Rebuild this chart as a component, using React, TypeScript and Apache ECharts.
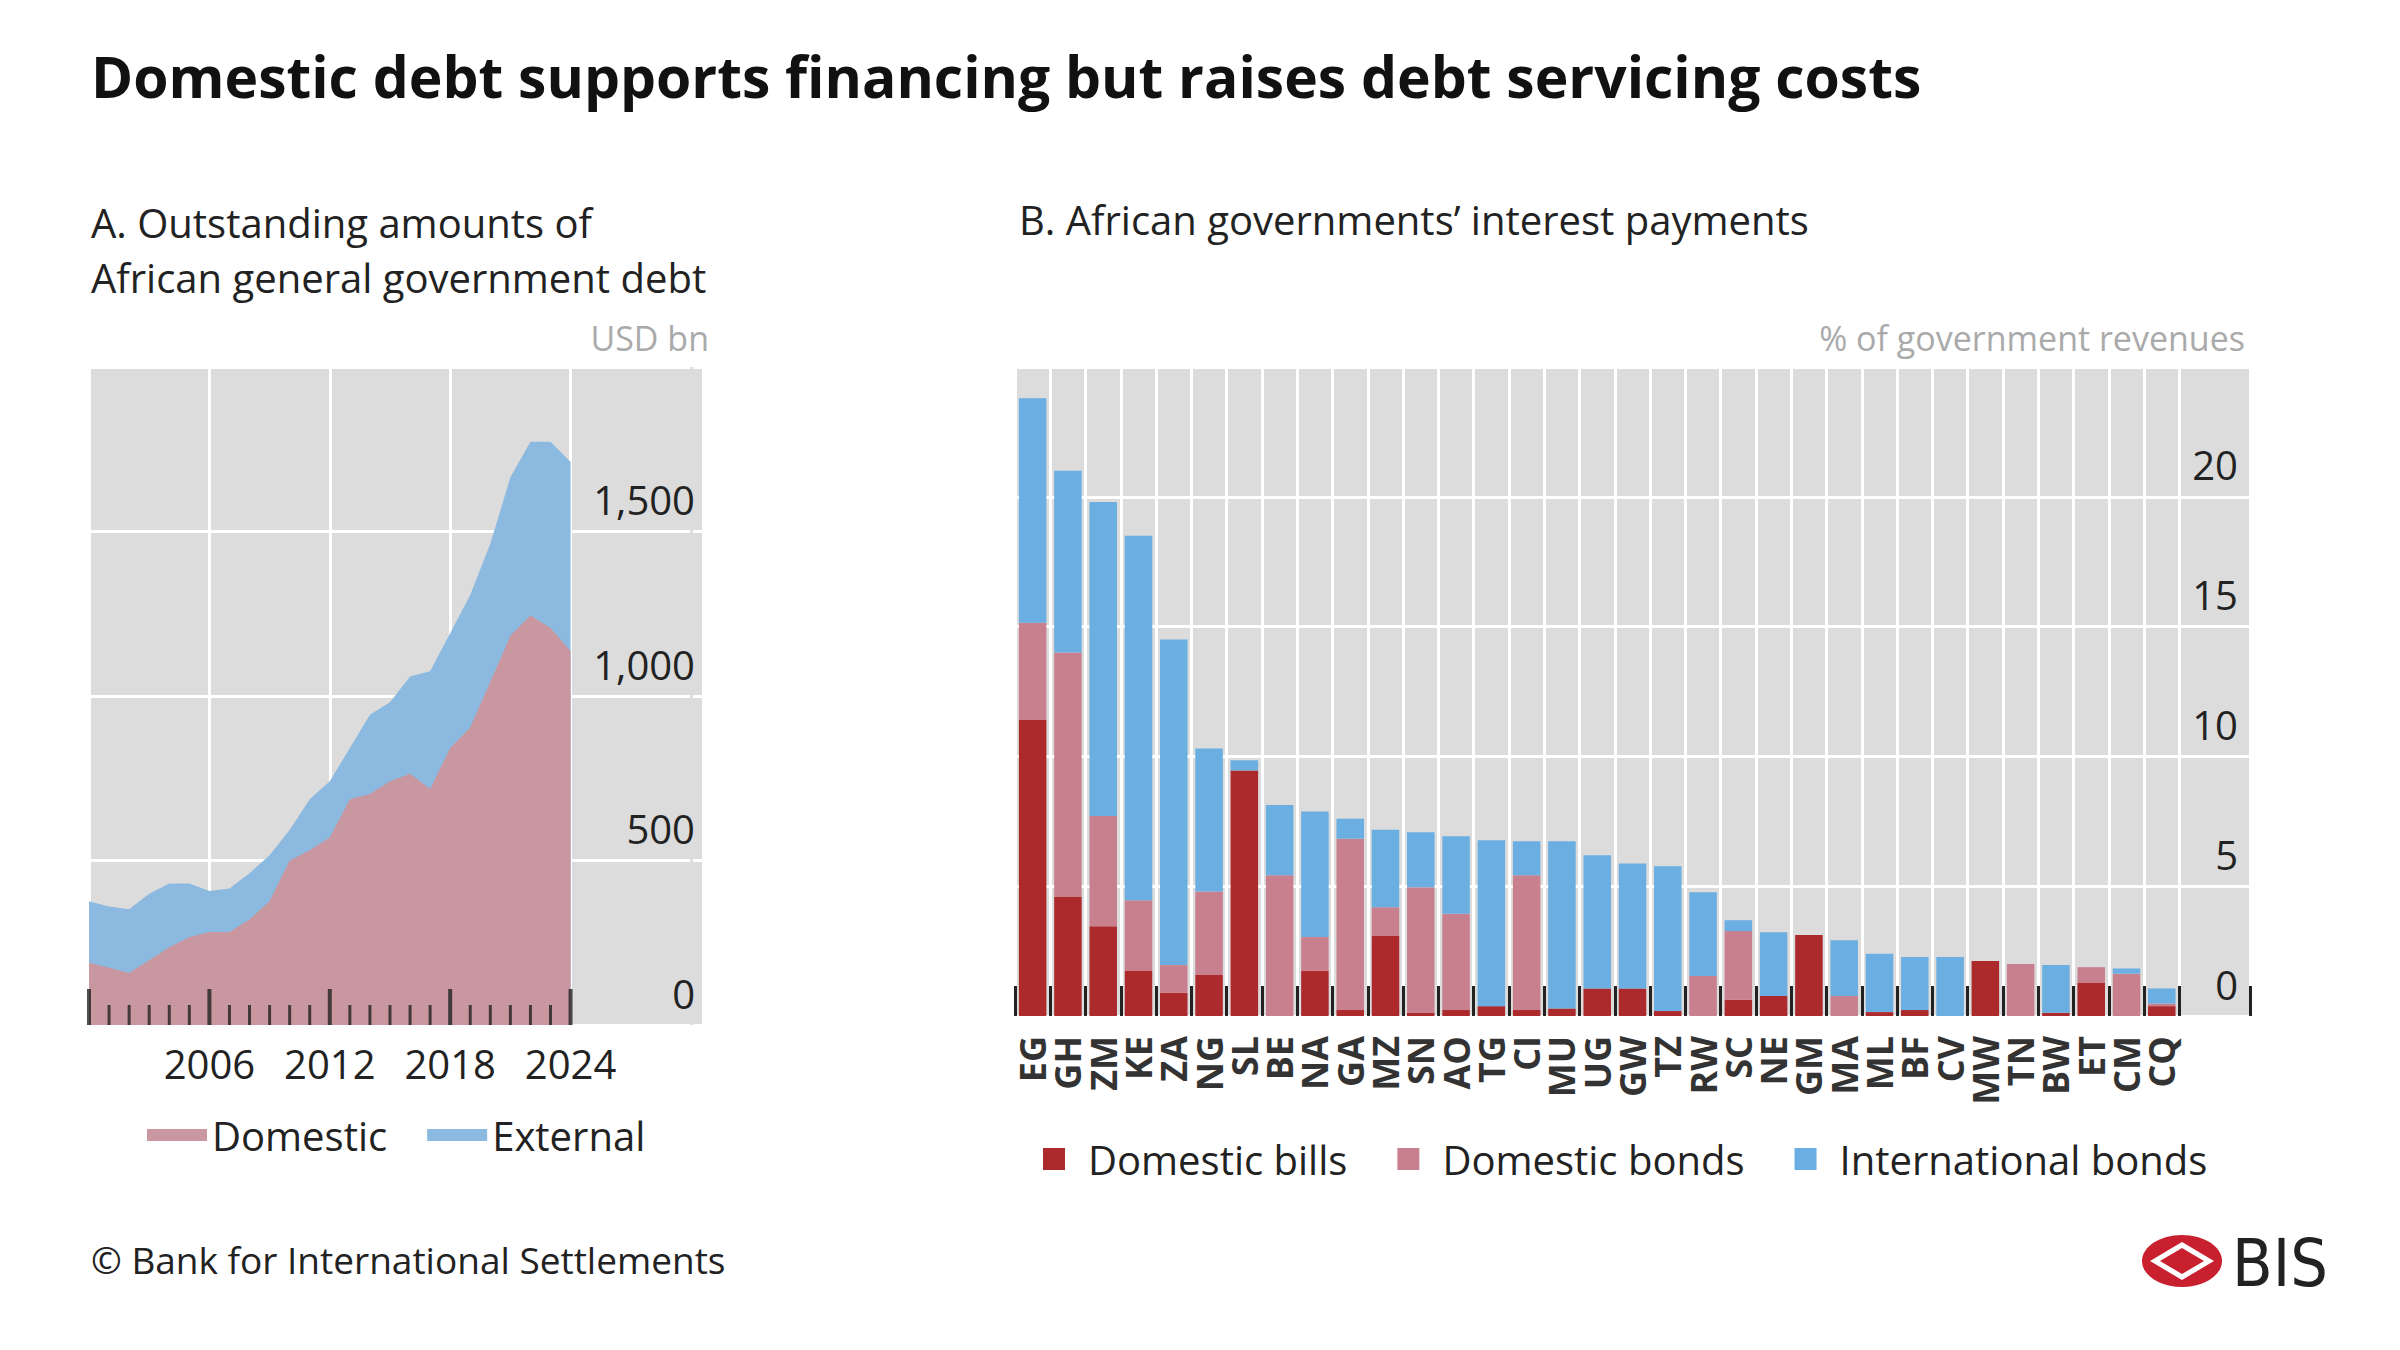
import React, { useEffect, useRef } from "react";
import * as echarts from "echarts";

const years = [2000, 2001, 2002, 2003, 2004, 2005, 2006, 2007, 2008, 2009, 2010, 2011, 2012, 2013, 2014, 2015, 2016, 2017, 2018, 2019, 2020, 2021, 2022, 2023, 2024];
const totalDebt = [376, 360, 352, 399, 430, 430, 407, 415, 461, 516, 593, 686, 741, 842, 943, 981, 1059, 1075, 1191, 1307, 1463, 1665, 1773, 1773, 1711];
const domesticDebt = [189, 174, 158, 197, 236, 267, 283, 283, 321, 376, 500, 531, 570, 686, 702, 741, 764, 717, 842, 904, 1043, 1183, 1245, 1207, 1137];

const countries = ["EG", "GH", "ZM", "KE", "ZA", "NG", "SL", "BE", "NA", "GA", "MZ", "SN", "AO", "TG", "CI", "MU", "UG", "GW", "TZ", "RW", "SC", "NE", "GM", "MA", "ML", "BF", "CV", "MW", "TN", "BW", "ET", "CM", "CQ"];
// cumulative tops: bills, bills+bonds, total
const billsTop = [11.4, 4.6, 3.46, 1.73, 0.9, 1.58, 9.46, 0, 1.73, 0.23, 3.08, 0.13, 0.23, 0.38, 0.23, 0.29, 1.06, 1.06, 0.19, 0, 0.63, 0.77, 3.12, 0, 0.15, 0.23, 0, 2.12, 0, 0.13, 1.29, 0, 0.38];
const bondsTop = [15.15, 14.0, 7.7, 4.46, 1.96, 4.8, 9.46, 5.42, 3.04, 6.83, 4.19, 4.96, 3.94, 0.38, 5.42, 0.29, 1.06, 1.06, 0.19, 1.54, 3.27, 0.77, 3.12, 0.77, 0.15, 0.23, 0, 2.12, 2.0, 0.13, 1.88, 1.63, 0.48];
const totalTop = [23.8, 21.0, 19.8, 18.5, 14.5, 10.3, 9.85, 8.13, 7.88, 7.6, 7.17, 7.08, 6.92, 6.77, 6.73, 6.73, 6.19, 5.87, 5.77, 4.77, 3.69, 3.23, 3.12, 2.92, 2.4, 2.27, 2.27, 2.12, 2.0, 1.96, 1.88, 1.83, 1.06];

const domesticBills = billsTop;
const domesticBonds = bondsTop.map((v, i) => +(v - billsTop[i]).toFixed(2));
const internationalBonds = totalTop.map((v, i) => +(v - bondsTop[i]).toFixed(2));

// two empty slots at the right leave room for the axis labels
const categoriesB = [...countries, "", ""];
const n = countries.length;

const FONT = "'Open Sans', 'Noto Sans', sans-serif";
const GREY = "#dcdcdc";

const App: React.FC = () => {
  const chartRef = useRef<HTMLDivElement>(null);

  useEffect(() => {
    if (!chartRef.current) return;
    const chart = echarts.init(chartRef.current, null, { renderer: "svg" });

    const option = {
      animation: false,
      backgroundColor: "#fff",
      textStyle: { fontFamily: FONT },
      title: [
        { text: "Domestic debt supports financing but raises debt servicing costs", left: 86, top: 42, textStyle: { fontSize: 57, fontWeight: "bold", color: "#111", fontFamily: FONT } },
        { text: "A. Outstanding amounts of\nAfrican general government debt", left: 86, top: 190, textStyle: { fontSize: 40, fontWeight: "normal", color: "#222", lineHeight: 55, fontFamily: FONT } },
        { text: "B. African governments’ interest payments", left: 1014, top: 194, textStyle: { fontSize: 40, fontWeight: "normal", color: "#222", fontFamily: FONT } },
        { text: "USD bn", right: 1686, top: 316, textStyle: { fontSize: 34, fontWeight: "normal", color: "#aaa", fontFamily: FONT } },
        { text: "% of government revenues", right: 150, top: 316, textStyle: { fontSize: 34, fontWeight: "normal", color: "#aaa", fontFamily: FONT } },
        { text: "© Bank for International Settlements", left: 86, top: 1236, textStyle: { fontSize: 37, fontWeight: "normal", color: "#222", fontFamily: FONT } },
      ],
      graphic: [
        { type: "ellipse", shape: { cx: 2182, cy: 1261, rx: 40, ry: 26 }, style: { fill: "#c8202f" } },
        { type: "polygon", shape: { points: [[2150, 1261], [2182, 1242], [2214, 1261], [2182, 1280]] }, style: { fill: "#fff" } },
        { type: "polygon", shape: { points: [[2160, 1261], [2182, 1248], [2204, 1261], [2182, 1274]] }, style: { fill: "#c8202f" } },
        { type: "text", x: 2232, y: 1230, style: { text: "BIS", fontSize: 66, fill: "#222", fontFamily: "'Liberation Sans Narrow', 'DejaVu Sans Condensed', sans-serif" } },
      ],
      legend: [
        {
          data: ["Domestic", "External"],
          left: 142, top: 1110, itemWidth: 60, itemHeight: 12, itemGap: 40,
          icon: "rect",
          textStyle: { fontSize: 40, color: "#222", fontFamily: FONT },
        },
        {
          data: ["Domestic bills", "Domestic bonds", "International bonds"],
          left: 1038, top: 1134, itemWidth: 22, itemHeight: 22, itemGap: 50,
          icon: "rect",
          textStyle: { fontSize: 40, color: "#222", fontFamily: FONT, padding: [0, 0, 0, 18] },
        },
      ],
      grid: [
        { left: 89, top: 367, width: 614, height: 658, backgroundColor: GREY, show: true, borderWidth: 0 },
        { left: 1015, top: 367, width: 1235, height: 649, backgroundColor: GREY, show: true, borderWidth: 0 },
      ],
      xAxis: [
        {
          type: "value", gridIndex: 0, min: 2000, max: 2030.6, interval: 6,
          axisLine: { show: false }, axisTick: { show: false },
          splitLine: { show: true, lineStyle: { color: ["#fff", "#fff", "#fff", "#fff", "#fff", GREY], width: 3 } },
          axisLabel: {
            fontSize: 40, color: "#222", margin: 18,
            formatter: (v: number) => (v > 2000 && v <= 2024 ? String(v) : ""),
          },
        },
        {
          type: "category", gridIndex: 1, data: categoriesB,
          axisLine: { show: false },
          axisTick: { show: true, inside: true, length: 30, lineStyle: { color: "#222", width: 3 }, interval: (i: number) => i <= n },
          splitLine: { show: true, lineStyle: { color: "#fff", width: 3 }, interval: (i: number) => i <= n },
          axisLabel: { rotate: 90, fontSize: 36, fontWeight: "bold", color: "#333", margin: 20, interval: 0 },
        },
      ],
      yAxis: [
        {
          type: "value", gridIndex: 0, position: "right", min: 0, max: 2000, interval: 500,
          axisLine: { show: false }, axisTick: { show: false },
          splitLine: { lineStyle: { color: "#fff", width: 3 } },
          axisLabel: {
            inside: true, verticalAlign: "bottom", fontSize: 40, color: "#222", margin: 8, padding: [0, 0, 12, 0],
            formatter: (v: number) => (v >= 2000 ? "" : v.toLocaleString("en-US")),
          },
        },
        {
          type: "value", gridIndex: 1, position: "right", min: 0, max: 25, interval: 5,
          axisLine: { show: false }, axisTick: { show: false },
          splitLine: { lineStyle: { color: "#fff", width: 3 } },
          axisLabel: {
            inside: true, verticalAlign: "bottom", fontSize: 40, color: "#222", margin: 12, padding: [0, 0, 12, 0],
            formatter: (v: number) => (v >= 25 ? "" : String(v)),
          },
        },
      ],
      series: [
        {
          // total = domestic + external, drawn behind the domestic area
          name: "External", type: "line", xAxisIndex: 0, yAxisIndex: 0,
          data: years.map((y, i) => [y, totalDebt[i]]),
          showSymbol: false, lineStyle: { width: 0 }, color: "#8cb9df",
          areaStyle: { color: "#8cb9df", opacity: 1 }, z: 2,
        },
        {
          name: "Domestic", type: "line", xAxisIndex: 0, yAxisIndex: 0,
          data: years.map((y, i) => [y, domesticDebt[i]]),
          showSymbol: false, lineStyle: { width: 0 }, color: "#c9979f",
          areaStyle: { color: "#c9979f", opacity: 1 }, z: 3,
        },
        {
          // year ticks drawn inside the bottom of panel A
          name: "ticks", type: "scatter", xAxisIndex: 0, yAxisIndex: 0,
          data: years.map((y) => [y, 0]),
          symbol: "rect",
          symbolSize: (v: number[]) => ((v[0] - 2000) % 6 === 0 ? [4, 36] : [3, 20]),
          symbolOffset: (v: number[]) => ((v[0] - 2000) % 6 === 0 ? [0, -18] : [0, -10]),
          itemStyle: { color: "#222" }, silent: true, z: 5,
        },
        {
          name: "Domestic bills", type: "bar", stack: "int", xAxisIndex: 1, yAxisIndex: 1,
          data: domesticBills, color: "#ac2a2c", barCategoryGap: "22%",
        },
        {
          name: "Domestic bonds", type: "bar", stack: "int", xAxisIndex: 1, yAxisIndex: 1,
          data: domesticBonds, color: "#c8808f",
        },
        {
          name: "International bonds", type: "bar", stack: "int", xAxisIndex: 1, yAxisIndex: 1,
          data: internationalBonds, color: "#6aaee2",
        },
      ],
    };

    chart.setOption(option);
    return () => chart.dispose();
  }, []);

  return <div ref={chartRef} style={{ position: "fixed", left: 0, top: 0, width: 2400, height: 1350 }} />;
};

export default App;
